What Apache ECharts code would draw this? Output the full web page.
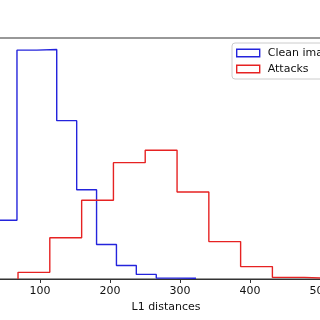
<!DOCTYPE html>
<html><head><meta charset="utf-8">
<script src="https://cdn.jsdelivr.net/npm/echarts/dist/echarts.min.js"></script>
<style>html,body{margin:0;padding:0;overflow:hidden;background:#fff;width:320px;height:320px}
#c{position:absolute;left:-50px;top:0;width:450px;height:320px}</style>
</head><body><div id="c"></div>
<script>
const cleanEdges = [38.7, 67.1, 95.5, 123.9, 152.4, 180.8, 209.2, 237.6, 266.1, 294.5, 322.9];
const cleanCounts = [256, 997, 1000, 690, 389, 150, 59, 20, 4, 3];
const attackEdges = [68.6, 114.0, 159.5, 204.9, 250.3, 295.8, 341.2, 386.6, 432.0, 477.5, 522.9];
const attackCounts = [29, 180, 343, 507, 561, 379, 163, 54, 7, 2];
const xTicks = [100, 200, 300, 400, 500];
const seriesNames = ['Clean images', 'Attacks'];
const seriesColors = ['#2424dc', '#e62222'];

function stepPath(edges, counts) {
  const p = [[edges[0], 0]];
  counts.forEach((c, i) => { p.push([edges[i], c]); p.push([edges[i + 1], c]); });
  p.push([edges[edges.length - 1], 0]);
  return p;
}
const yMax = 1.05 * Math.max(...cleanCounts, ...attackCounts);
const chart = echarts.init(document.getElementById('c'), null, {renderer: 'canvas'});
const font = 'DejaVu Sans';
chart.setOption({
  animation: false,
  backgroundColor: '#fff',
  grid: {left: 20, top: 38, width: 392, height: 241, show: true, borderColor: '#333', borderWidth: 1.2, backgroundColor: 'transparent'},
  xAxis: {
    type: 'value', min: 0, max: 560, interval: 100,
    name: 'L1 distances', nameLocation: 'middle', nameGap: 22,
    nameTextStyle: {fontFamily: font, fontSize: 11, color: '#111'},
    axisLine: {show: true, lineStyle: {color: '#333', width: 1.2}},
    axisTick: {show: true, length: 4, lineStyle: {color: '#333', width: 1}},
    axisLabel: {fontFamily: font, fontSize: 11, color: '#111', margin: 7,
      formatter: v => xTicks.indexOf(v) >= 0 ? String(v) : ''},
    splitLine: {show: false}
  },
  yAxis: {type: 'value', min: 0, max: yMax, show: false, splitLine: {show: false}},
  legend: {
    orient: 'vertical', left: 282, top: 43,
    padding: [4, 8, 4, 4], itemGap: 4, itemWidth: 23, itemHeight: 7.5,
    backgroundColor: 'rgba(255,255,255,0.8)', borderColor: '#ccc', borderWidth: 1, borderRadius: 3,
    textStyle: {fontFamily: font, fontSize: 11, color: '#111', lineHeight: 12, padding: [0, 0, 0, 3]},
    data: seriesNames.map((n, i) => ({name: n, icon: 'rect',
      itemStyle: {color: 'transparent', borderColor: seriesColors[i], borderWidth: 1.4}}))
  },
  series: [
    {name: seriesNames[0], type: 'line', data: stepPath(cleanEdges, cleanCounts), symbol: 'none',
      lineStyle: {color: seriesColors[0], width: 1.4}, itemStyle: {color: seriesColors[0]}, z: 2},
    {name: seriesNames[1], type: 'line', data: stepPath(attackEdges, attackCounts), symbol: 'none',
      lineStyle: {color: seriesColors[1], width: 1.4}, itemStyle: {color: seriesColors[1]}, z: 3}
  ]
});
</script></body></html>
